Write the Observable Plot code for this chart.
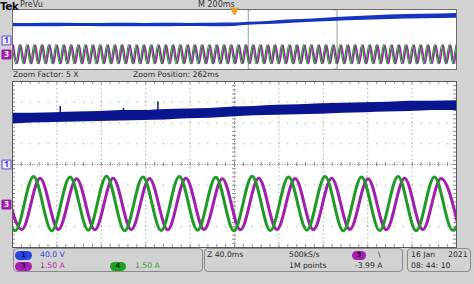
<!DOCTYPE html>
<html><head><meta charset="utf-8">
<script src="https://cdn.jsdelivr.net/npm/d3@7"></script>
<script src="https://cdn.jsdelivr.net/npm/@observablehq/plot@0.6"></script>
<style>
html,body{margin:0;padding:0;background:#d2d2d2;}
#scope{position:relative;width:474px;height:284px;overflow:hidden;background:#d2d2d2;font-family:"DejaVu Sans",sans-serif;color:#2a2a2a;}
#scope svg{position:absolute;left:0;top:0;}
.t{position:absolute;white-space:nowrap;font-size:7.7px;line-height:10px;}
.box{position:absolute;border:1px solid #8a8a8a;border-radius:4px;box-sizing:border-box;}
.pill{position:absolute;height:9px;border-radius:5px;font-size:7px;line-height:9px;text-align:center;font-weight:bold;}
</style></head><body>
<div id="scope"></div>
<script>
// ---------------- data ----------------
const overviewDomain = [-1000, 1000];      // ms, M 200ms/div
const zoomDomain = [62, 462];              // ms, Z 40ms/div, position 262ms
const triggerT = 0;
const ch1VoltsPerDiv = 40;
const ch34AmpsPerDiv = 1.5;
const ch1OffsetMain = 0, ch34OffsetMain = -1.93;
const ch1OffsetOv = -0.13, ch34OffsetOv = -2.0;

// channel 1 (V) overview band
const blueOvT  = [-1000,-900,-800,-700,-600,-500,-400,-300,-200,-100,0,62,150,262,350,462,550,700,850,1000];
const blueOvHi = [91,91,92,91,91,92,91,92,91,92,93,97,101,110,115,122,128,136,140,144];
const blueOvLo = [73,73,73,74,73,73,73,73,74,73,75,81,85,92,97,102,106,112,116,118];

// channel 1 (V) zoom band
const blueMainT  = [62,80,100,120,140,160,180,200,220,240,262,280,300,320,340,360,380,400,420,440,462];
const blueMainHi = [99,99,100,101,102,104,104,106,107,108,111,112,114,115,117,118,119,120,122,122,123];
const blueMainLo = [78,80,81,82,83,84,85,86,88,89,92,94,95,96,97,99,100,101,102,104,104];
const spikeT = [105, 162, 193];
const spikeTop = [112, 108, 121];
const spikeBase = [95, 99, 101];

// channel 4 (green, A) and channel 3 (purple, A) zoom: extrema
const greenMainT = [48.5,64.5,80.9,97.4,113.8,130.3,146.7,163.1,179.5,195.9,212.3,228.7,245.1,261.5,277.9,294.3,310.7,327.2,343.6,360,376.4,392.8,409.3,425.7,442.1,458.5,474.9];
const greenMainA = [2.0,-1.88,2.02,-1.9,2.0,-1.85,2.05,-1.9,2.0,-1.88,2.02,-1.86,1.98,-1.9,2.05,-1.88,2.0,-1.85,2.02,-1.9,2.0,-1.88,2.03,-1.9,2.0,-1.86,2.0];
const purpleMainT = [54.4,70.4,86.8,103.3,119.7,136.2,152.6,169,185.4,201.8,218.2,234.6,251,267.4,283.8,300.2,316.6,333.1,349.5,365.9,382.3,398.7,415.2,431.6,448,464.4];
const purpleMainA = [1.88,-1.81,1.9,-1.8,1.86,-1.83,1.9,-1.8,1.88,-1.82,1.9,-1.8,1.86,-1.83,1.9,-1.8,1.88,-1.82,1.9,-1.8,1.86,-1.83,1.9,-1.8,1.88,-1.82];

// overview extrema times (ms)
const greenOvPeakT = [-1002,-969,-936,-903,-870,-838,-805,-772,-739,-706,-674,-641,-608,-575,-542,-510,-477,-444,-411,-378,-346,-313,-280,-247,-214,-182,-149,-116,-83,-50,-18,15,48,81,114,147,179,212,245,278,311,343,376,409,442,475,507,540,573,606,639,671,704,737,770,803,835,868,901,934,967,999,1032];
const greenOvTroughT = [-985,-952,-920,-887,-854,-821,-788,-756,-723,-690,-657,-624,-592,-559,-526,-493,-460,-428,-395,-362,-329,-296,-264,-231,-198,-165,-132,-100,-67,-34,-1,32,64,97,130,163,196,228,261,294,327,360,392,425,458,491,524,556,589,622,655,688,720,753,786,819,852,884,917,950,983,1016];
const purpleOvPeakT = [-996,-963,-930,-897,-864,-832,-799,-766,-733,-700,-668,-635,-602,-569,-536,-504,-471,-438,-405,-372,-340,-307,-274,-241,-208,-176,-143,-110,-77,-44,-12,21,54,87,120,153,185,218,251,284,317,349,382,415,448,481,513,546,579,612,645,677,710,743,776,809,841,874,907,940,973,1005,1038];
const purpleOvTroughT = [-979,-946,-914,-881,-848,-815,-782,-750,-717,-684,-651,-618,-586,-553,-520,-487,-454,-422,-389,-356,-323,-290,-258,-225,-192,-159,-126,-94,-61,-28,5,38,70,103,136,169,202,234,267,300,333,366,398,431,464,497,530,562,595,628,661,694,726,759,792,825,858,890,923,956,989,1022];
const greenOvPeakA = 2.0, greenOvTroughA = -1.88, purpleOvPeakA = 1.88, purpleOvTroughA = -1.81;

// ---------------- styles ----------------
const BLUE_OV = "#1535c0", BLUE_MAIN = "#0a1690", GREEN = "#1f9a26", PURPLE = "#a11fae", GRID = "#8e8e8e";

// ---------------- tables ----------------
const band = (ts, hi, lo) => ts.map((t, i) => ({t, hi: hi[i], lo: lo[i]}));
const pairs = (ts, vs) => ts.map((t, i) => ({t, v: vs[i]}));
const extrema = (pt, pa, tt, ta) =>
  [...pt.map(t => ({t, v: pa})), ...tt.map(t => ({t, v: ta}))].sort((a, b) => a.t - b.t);

const blueOv = band(blueOvT, blueOvHi, blueOvLo);
const blueMain = band(blueMainT, blueMainHi, blueMainLo);
const spikes = spikeT.map((t, i) => ({t, top: spikeTop[i], base: spikeBase[i]}));
const greenMain = pairs(greenMainT, greenMainA);
const purpleMain = pairs(purpleMainT, purpleMainA);
const greenOv = extrema(greenOvPeakT, greenOvPeakA, greenOvTroughT, greenOvTroughA);
const purpleOv = extrema(purpleOvPeakT, purpleOvPeakA, purpleOvTroughT, purpleOvTroughA);

const vDiv = off => v => off + v / ch1VoltsPerDiv;
const aDiv = off => a => off + a / ch34AmpsPerDiv;

function markers(x0, off1, off3) {
  return [
    Plot.dot([off1], {x: () => x0, y: d => d, dx: -6, symbol: "square", r: 5, fill: "#eeeaff", stroke: "#5a4fd8", strokeWidth: 1}),
    Plot.text([off1], {x: () => x0, y: d => d, dx: -6, text: () => "1", fill: "#3a2fc8", fontSize: 8, fontWeight: "bold"}),
    Plot.dot([off3], {x: () => x0, y: d => d, dx: -6, symbol: "square", r: 5, fill: "#a51fb0", stroke: "#8a1196", strokeWidth: 1}),
    Plot.text([off3], {x: () => x0, y: d => d, dx: -6, text: () => "3", fill: "white", fontSize: 8, fontWeight: "bold"})
  ];
}

// ---------------- overview (PreVu) ----------------
const ov = Plot.plot({
  width: 474, height: 284,
  marginLeft: 12, marginRight: 18, marginTop: 9, marginBottom: 215,
  x: {domain: overviewDomain, axis: null},
  y: {domain: [-4, 4], axis: null},
  style: {background: "transparent", overflow: "visible"},
  marks: [
    Plot.frame({fill: "white", stroke: "none"}),
    Plot.ruleX(zoomDomain, {x: d => d, y1: -4, y2: 4, stroke: "#9c9c9c", strokeWidth: 1}),
    Plot.ruleY([3.93, -3.93], {y: d => d, x1: zoomDomain[0], x2: zoomDomain[0] + 14, stroke: "#9c9c9c"}),
    Plot.ruleY([3.93, -3.93], {y: d => d, x1: zoomDomain[1] - 14, x2: zoomDomain[1], stroke: "#9c9c9c"}),
    Plot.areaY(blueOv, {x: "t", y1: d => vDiv(ch1OffsetOv)(d.lo), y2: d => vDiv(ch1OffsetOv)(d.hi), fill: BLUE_OV, curve: "monotone-x"}),
    Plot.line(purpleOv, {x: "t", y: d => aDiv(ch34OffsetOv)(d.v), stroke: PURPLE, strokeWidth: 1.6, curve: "monotone-x", clip: true}),
    Plot.line(greenOv, {x: "t", y: d => aDiv(ch34OffsetOv)(d.v), stroke: GREEN, strokeWidth: 1.2, curve: "monotone-x", clip: true}),
    Plot.frame({stroke: "#6e6e6e"}),
    Plot.dot([triggerT], {x: d => d, y: () => 4, dy: 1, symbol: "triangle", rotate: 180, r: 3, fill: "#f0a02a", stroke: "#d07a10", strokeWidth: 0.5}),
    ...markers(overviewDomain[0], ch1OffsetOv, ch34OffsetOv)
  ]
});

// ---------------- zoom window ----------------
const minorX = d3.range(zoomDomain[0], zoomDomain[1] + 0.01, 8);
const minorY = d3.range(-4, 4.01, 0.2);
const majorX = [102, 142, 182, 222, 302, 342, 382, 422];
const majorY = [-3, -2, -1, 1, 2, 3];

const main = Plot.plot({
  width: 474, height: 284,
  marginLeft: 12, marginRight: 18, marginTop: 81, marginBottom: 37,
  x: {domain: zoomDomain, axis: null},
  y: {domain: [-4, 4], axis: null},
  style: {background: "transparent", overflow: "visible"},
  marks: [
    Plot.frame({fill: "white", stroke: "none"}),
    Plot.ruleX(majorX, {x: d => d, y1: -4, y2: 4, stroke: GRID, strokeDasharray: "1,3.15"}),
    Plot.ruleY(majorY, {y: d => d, x1: zoomDomain[0], x2: zoomDomain[1], stroke: GRID, strokeDasharray: "1,7.88"}),
    Plot.ruleX([262], {x: d => d, y1: -4, y2: 4, stroke: GRID, strokeDasharray: "1,1.5"}),
    Plot.ruleY([0], {y: d => d, x1: zoomDomain[0], x2: zoomDomain[1], stroke: GRID, strokeDasharray: "1,1.5"}),
    Plot.ruleX(minorX, {x: d => d, y1: -0.1, y2: 0.1, stroke: GRID}),
    Plot.ruleY(minorY, {y: d => d, x1: 260.2, x2: 263.8, stroke: GRID}),
    Plot.ruleX(minorX, {x: d => d, y1: 4, y2: 3.86, stroke: GRID}),
    Plot.ruleX(minorX, {x: d => d, y1: -4, y2: -3.86, stroke: GRID}),
    Plot.ruleY(minorY, {y: d => d, x1: zoomDomain[0], x2: zoomDomain[0] + 2.7, stroke: GRID}),
    Plot.ruleY(minorY, {y: d => d, x1: zoomDomain[1] - 2.7, x2: zoomDomain[1], stroke: GRID}),
    Plot.areaY(blueMain, {x: "t", y1: d => vDiv(ch1OffsetMain)(d.lo), y2: d => vDiv(ch1OffsetMain)(d.hi), fill: BLUE_MAIN, curve: "monotone-x"}),
    Plot.ruleX(spikes, {x: "t", y1: d => vDiv(ch1OffsetMain)(d.base), y2: d => vDiv(ch1OffsetMain)(d.top), stroke: BLUE_MAIN, strokeWidth: 1.5}),
    Plot.line(purpleMain, {x: "t", y: d => aDiv(ch34OffsetMain)(d.v), stroke: PURPLE, strokeWidth: 3, curve: "monotone-x", clip: true}),
    Plot.line(greenMain, {x: "t", y: d => aDiv(ch34OffsetMain)(d.v), stroke: GREEN, strokeWidth: 3, curve: "monotone-x", clip: true}),
    Plot.frame({stroke: "#5a5a5a"}),
    ...markers(zoomDomain[0], ch1OffsetMain, ch34OffsetMain)
  ]
});

const scope = document.getElementById("scope");
scope.appendChild(ov);
scope.appendChild(main);

// ---------------- text & readouts ----------------
const items = [
  ["t", "Tek", 0, 0, "font-size:10.5px;font-weight:bold;color:#111;letter-spacing:-0.6px;line-height:12px;"],
  ["t", "PreVu", 20, 0, "font-size:8px;color:#333;line-height:9px;"],
  ["t", "M 200ms", 198, 0, "font-size:8px;color:#333;line-height:9px;"],
  ["t", "Zoom Factor: 5 X", 13, 70, ""],
  ["t", "Zoom Position: 262ms", 133, 70, ""],
  ["t", "40.0 V", 40, 250, "color:#3b3bd6;"],
  ["t", "1.50 A", 40, 261, "color:#a52aa8;"],
  ["t", "1.50 A", 135, 261, "color:#35a035;"],
  ["t", "Z 40.0ms", 207, 250, ""],
  ["t", "500kS/s", 289, 250, ""],
  ["t", "1M points", 289, 261, ""],
  ["t", "\\", 378, 250, ""],
  ["t", "-3.99 A", 355, 261, ""],
  ["t", "16 Jan", 411, 250, ""],
  ["t", "2021", 448, 250, ""],
  ["t", "08: 44: 10", 411, 261, ""]
];
const boxes = [[13, 248, 190, 24], [204, 248, 199, 24], [407, 248, 64, 24]];
for (const [l, t, w, h] of boxes) {
  const b = document.createElement("div");
  b.className = "box";
  b.style.cssText = `left:${l}px;top:${t}px;width:${w}px;height:${h}px;`;
  scope.appendChild(b);
}
const pills = [["1", 15, 251, 17, "#2a46e0", "#0a0a60"], ["3", 15, 262, 17, "#a51fb0", "#2a0030"], ["4", 110, 262, 16, "#1fa022", "#063006"], ["3", 352, 251, 14, "#a51fb0", "#2a0030"]];
for (const [txt, l, t, w, bg, fg] of pills) {
  const p = document.createElement("div");
  p.className = "pill";
  p.textContent = txt;
  p.style.cssText = `left:${l}px;top:${t}px;width:${w}px;background:${bg};color:${fg};`;
  scope.appendChild(p);
}
for (const [cls, txt, l, t, css] of items) {
  const d = document.createElement("div");
  d.className = cls;
  d.textContent = txt;
  d.style.cssText = `left:${l}px;top:${t}px;${css}`;
  scope.appendChild(d);
}
</script></body></html>
